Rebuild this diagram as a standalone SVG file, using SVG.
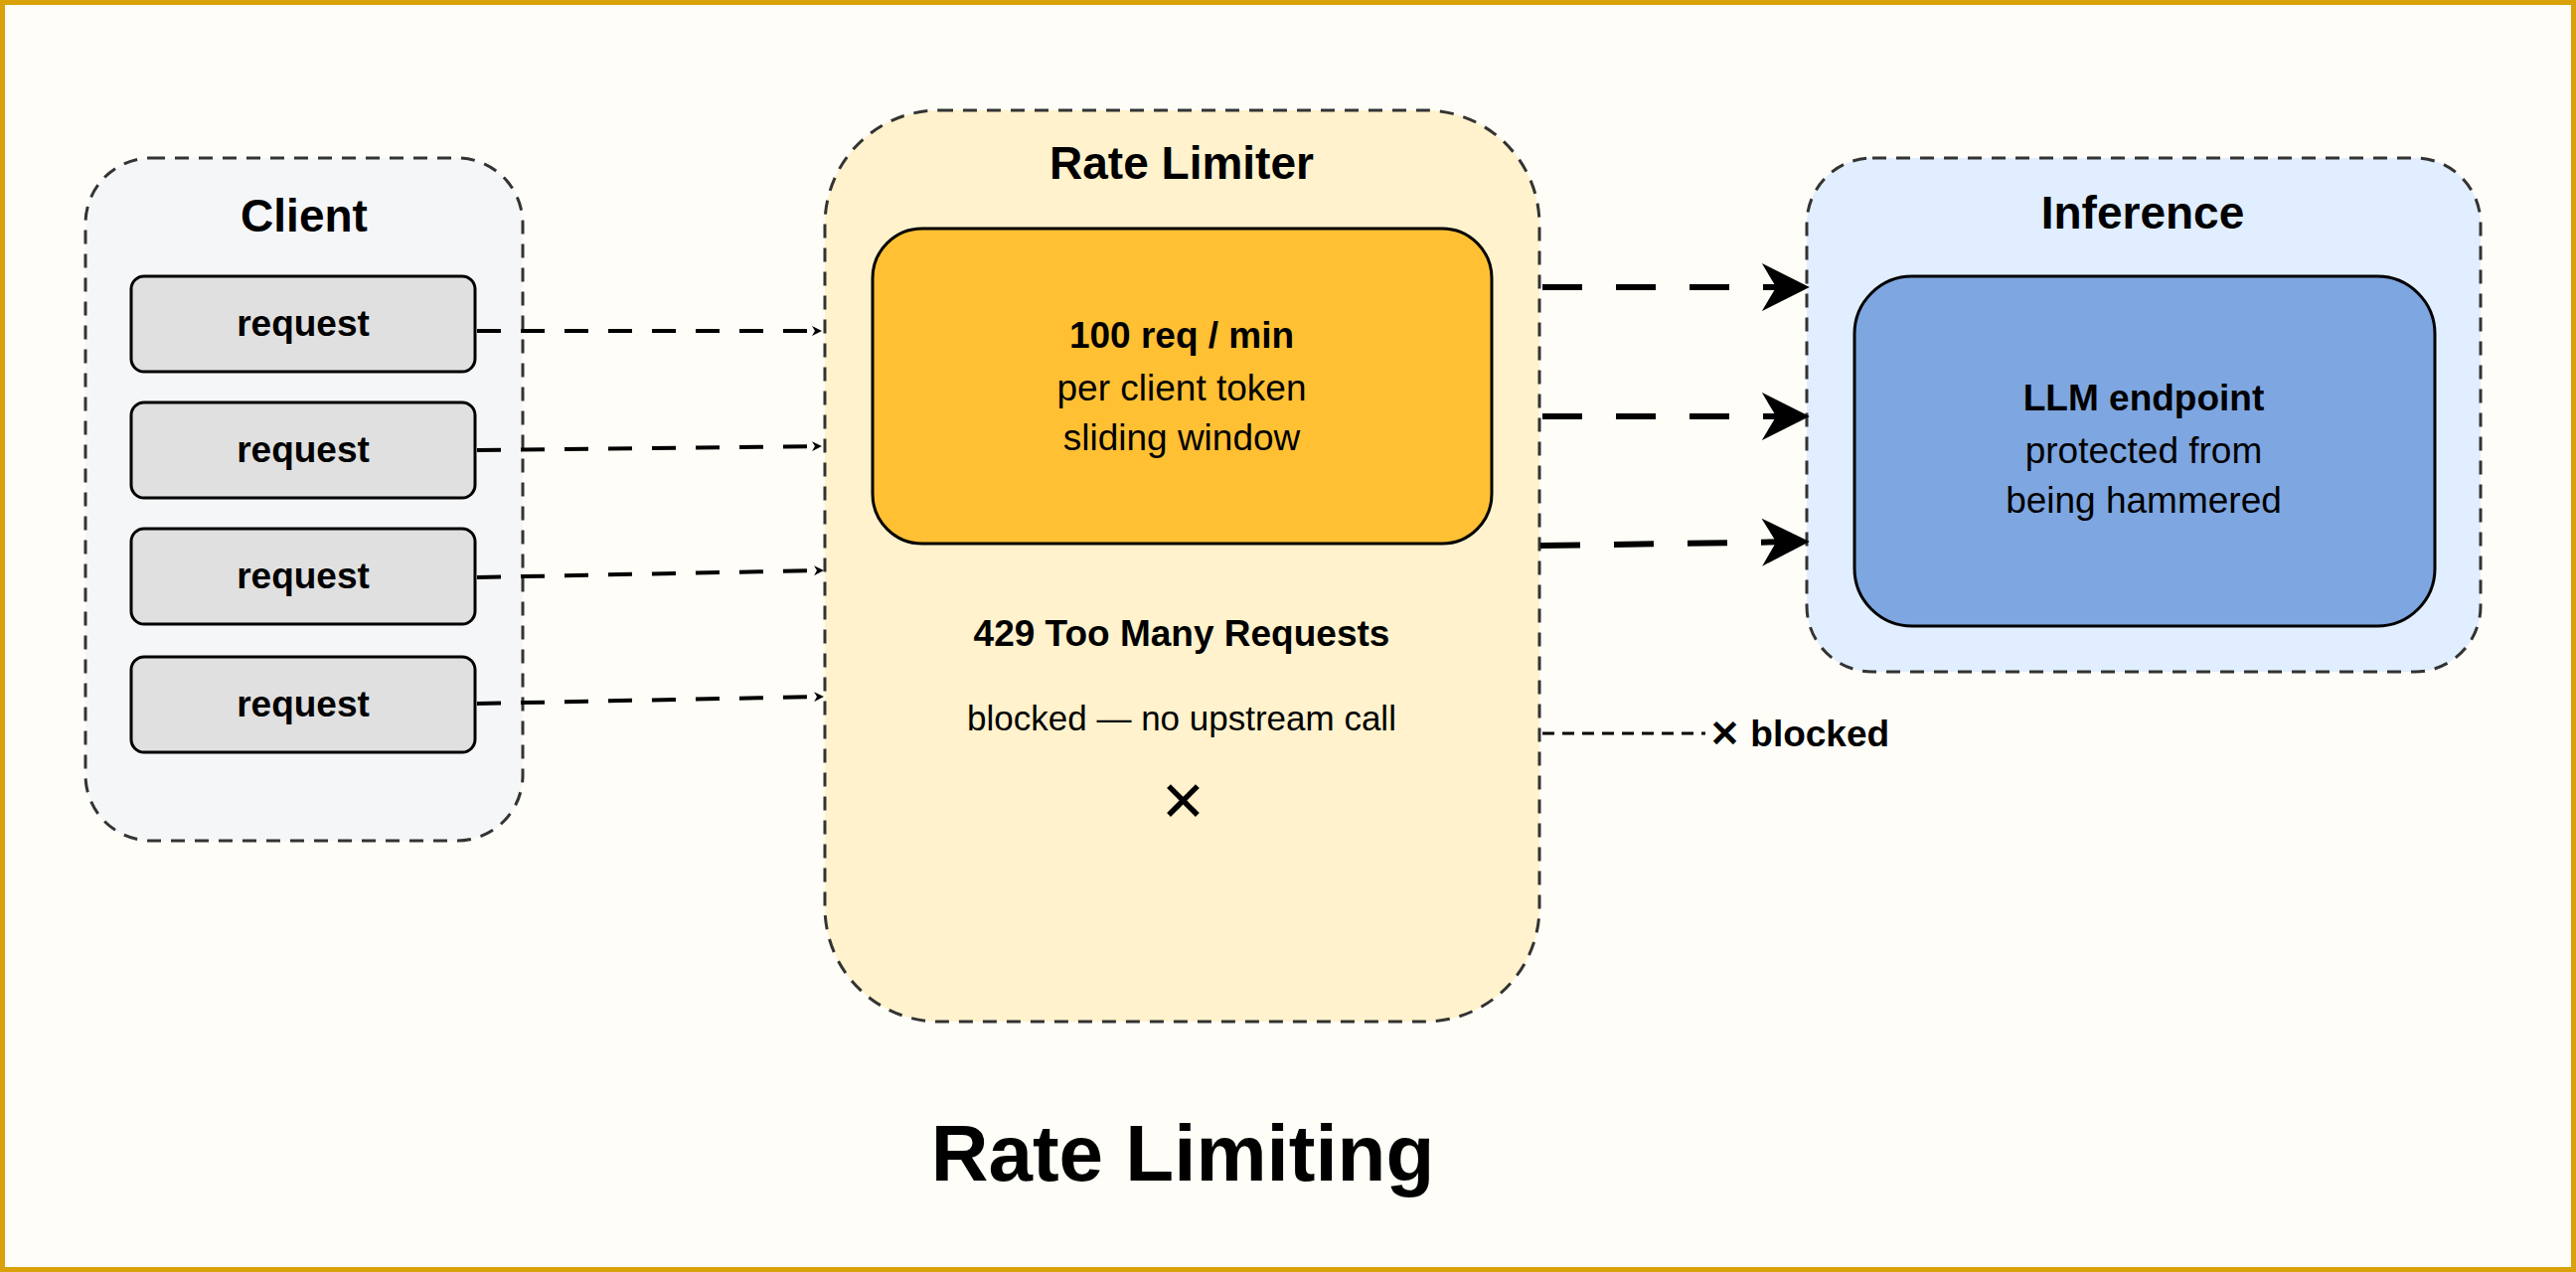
<svg xmlns="http://www.w3.org/2000/svg" width="2592" height="1280" viewBox="0 0 2592 1280">
<defs>
<style>
text{font-family:"Liberation Sans",Arial,sans-serif;fill:#000;text-anchor:middle}
.b{font-weight:bold}
.grp{stroke:#333;stroke-width:3;stroke-dasharray:14 10}
.box{stroke:#000;stroke-width:3}
.c{fill:none;stroke:#000;stroke-width:4;stroke-dasharray:24 20}
.ct{fill:none;stroke:#000;stroke-width:6;stroke-dasharray:40 34}
</style>
<marker id="a" viewBox="0 0 10 10" refX="9" refY="5" markerWidth="10" markerHeight="10" markerUnits="userSpaceOnUse" orient="auto"><path d="M0,0 L10,5 L0,10 L3,5 Z" fill="#000"/></marker>
<marker id="ab" viewBox="0 0 10 10" refX="9" refY="5" markerWidth="8" markerHeight="8" orient="auto"><path d="M0,0 L10,5 L0,10 L3,5 Z" fill="#000"/></marker>
</defs>
<rect x="2.5" y="2.5" width="2587" height="1275" fill="#FFFDF7" stroke="#D9A20B" stroke-width="5"/>
<g id="client">
<rect class="grp" x="86" y="159" width="440" height="687" rx="66" fill="#F5F6F8"/>
<text class="b" x="306" y="233" font-size="46">Client</text>
</g>
<g id="req1"><rect class="box" x="132" y="278" width="346" height="96" rx="13" fill="#E0E0E0"/><text class="b" x="305" y="338" font-size="37">request</text></g>
<g id="req2"><rect class="box" x="132" y="405" width="346" height="96" rx="13" fill="#E0E0E0"/><text class="b" x="305" y="465" font-size="37">request</text></g>
<g id="req3"><rect class="box" x="132" y="532" width="346" height="96" rx="13" fill="#E0E0E0"/><text class="b" x="305" y="592" font-size="37">request</text></g>
<g id="req4"><rect class="box" x="132" y="661" width="346" height="96" rx="13" fill="#E0E0E0"/><text class="b" x="305" y="721" font-size="37">request</text></g>
<g id="ratelimiter">
<rect class="grp" x="830" y="111" width="719" height="917" rx="115" fill="#FFF2CC"/>
<text class="b" x="1189" y="180" font-size="46">Rate Limiter</text>
<text class="b" x="1189" y="650" font-size="37">429 Too Many Requests</text>
<text x="1189" y="735" font-size="35">blocked — no upstream call</text>
<text x="1190" y="826" font-size="56">✕</text>
</g>
<g id="policy">
<rect class="box" x="878" y="230" width="623" height="317" rx="50" fill="#FFC033"/>
<text class="b" x="1189" y="350" font-size="37">100 req / min</text>
<text x="1189" y="403" font-size="37">per client token</text>
<text x="1189" y="453" font-size="37">sliding window</text>
</g>
<g id="inference">
<rect class="grp" x="1818" y="159" width="678" height="517" rx="66" fill="#E0EEFF"/>
<text class="b" x="2156" y="230" font-size="46">Inference</text>
</g>
<g id="llm">
<rect class="box" x="1866" y="278" width="584" height="352" rx="58" fill="#7EA6E0"/>
<text class="b" x="2157" y="413" font-size="37">LLM endpoint</text>
<text x="2157" y="466" font-size="37">protected from</text>
<text x="2157" y="516" font-size="37">being hammered</text>
</g>
<g id="connectors">
<path class="c" d="M480,333 L826,333" marker-end="url(#a)" style="--m:0"/>
<path class="c" d="M480,453 L826,449" marker-end="url(#a)"/>
<path class="c" d="M480,581 L828,574" marker-end="url(#a)"/>
<path class="c" d="M480,708 L828,701" marker-end="url(#a)"/>
<path class="ct" d="M1552,289 L1816,289" marker-end="url(#ab)"/>
<path class="ct" d="M1552,419 L1816,419" marker-end="url(#ab)"/>
<path class="ct" d="M1550,549 L1816,545" marker-end="url(#ab)"/>
<path d="M1552,738 L1716,738" fill="none" stroke="#000" stroke-width="3" stroke-dasharray="12 8"/>
<text class="b" x="1720" y="751" font-size="37" style="text-anchor:start">✕ blocked</text>
</g>
<text class="b" x="1190" y="1188" font-size="80">Rate Limiting</text>
</svg>
